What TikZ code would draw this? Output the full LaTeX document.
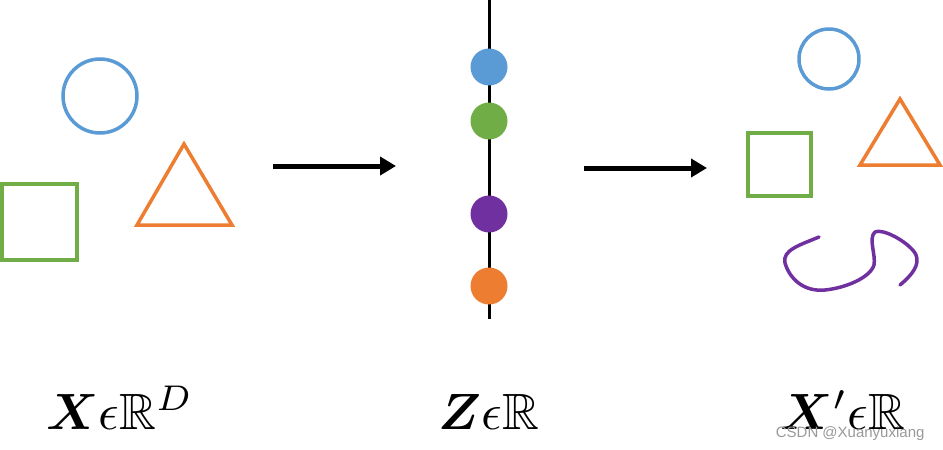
\documentclass[tikz,border=0pt]{standalone}
\usepackage{amsmath,amssymb,bm}
\usepackage{fontspec}
\usetikzlibrary{arrows.meta}
\definecolor{cblue}{HTML}{5B9BD5}
\definecolor{cgreen}{HTML}{70AD47}
\definecolor{corange}{HTML}{ED7D31}
\definecolor{cpurple}{HTML}{7030A0}
\begin{document}
\begin{tikzpicture}[x=1pt,y=-1pt,
  shapeline/.style={line width=3.5pt},
  bigarrow/.style={line width=5pt,-{Triangle[length=16pt,width=18pt]}},
  dot/.style={circle,inner sep=0pt,minimum size=37pt},
  lbl/.style={anchor=base,scale=5.1}]
\useasboundingbox (0,0) rectangle (943,450);
% left group
\draw[shapeline,cblue] (100,96) circle (37);
\draw[shapeline,cgreen] (1.75,184) rectangle (77,260);
\draw[shapeline,corange] (137,225) -- (232,225) -- (184,144) -- cycle;
% arrows
\coordinate (a1s) at (273,166); \coordinate (a1e) at (396,166);
\draw[bigarrow] (a1s) -- (a1e);
\coordinate (a2s) at (584,168); \coordinate (a2e) at (707,168);
\draw[bigarrow] (a2s) -- (a2e);
% axis
\coordinate (ztop) at (489,0); \coordinate (zbot) at (489,319);
\draw[line width=3pt] (ztop) -- (zbot);
\node[dot,fill=cblue] (d1) at (489,67) {};
\node[dot,fill=cgreen] (d2) at (489,121) {};
\node[dot,fill=cpurple] (d3) at (489,214) {};
\node[dot,fill=corange] (d4) at (489,286) {};
% right group
\draw[shapeline,cblue] (829,59) circle (30);
\draw[shapeline,cgreen] (748,133) rectangle (811,196);
\draw[shapeline,corange] (860,165) -- (940,165) -- (900,99) -- cycle;
\draw[shapeline,cpurple,line cap=round,line join=round]
  (819,237) .. controls (800,245) and (782,250) .. (785,263)
  .. controls (790,280) and (805,292) .. (825,290)
  .. controls (845,288) and (870,278) .. (874,265)
  .. controls (876,255) and (868,238) .. (875,232)
  .. controls (885,228) and (912,245) .. (916,255)
  .. controls (920,265) and (912,275) .. (900,285);
% labels
\node[lbl] (lx) at (120,429) {$\bm{X}\epsilon\mathbb{R}^{D}$};
\node[lbl] (lz) at (489,429) {$\bm{Z}\epsilon\mathbb{R}$};
\node[lbl] (lxp) at (843,429) {$\bm{X}'\epsilon\mathbb{R}$};
\node[font=\fontspec{Liberation Sans}\fontsize{15}{17}\selectfont,text=black!40,anchor=base east] (wm) at (928,437) {CSDN @Xuanyuxiang};
\end{tikzpicture}
\end{document}
